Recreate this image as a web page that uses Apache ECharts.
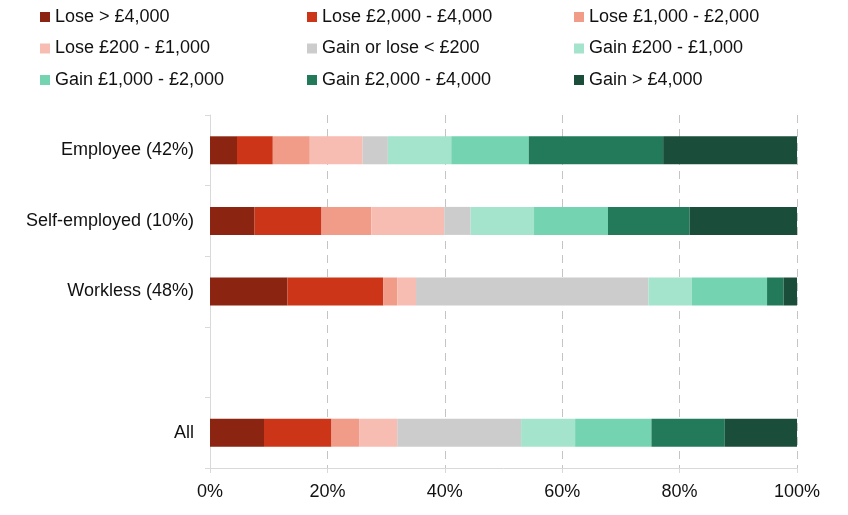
<!DOCTYPE html>
<html>
<head>
<meta charset="utf-8">
<script src="https://cdn.jsdelivr.net/npm/echarts@6.0.0/dist/echarts.min.js"></script>
<style>
  html, body { margin: 0; padding: 0; background: #fff; }
  #chart { width: 848px; height: 515px; }
</style>
</head>
<body>
<div id="chart"></div>
<script>
// categories, top to bottom (blank row sits between Workless and All)
var categories = ['Employee (42%)', 'Self-employed (10%)', 'Workless (48%)', '', 'All']

// share of each group (%) in each band of gain / loss
var loseOver4k = [4.6, 7.6, 13.2, null, 9.2]
var lose2kTo4k = [6.1, 11.4, 16.3, null, 11.5]
var lose1kTo2k = [6.3, 8.5, 2.4, null, 4.7]
var lose200To1k = [9.0, 12.4, 3.2, null, 6.5]
var within200 = [4.3, 4.5, 39.6, null, 21.1]
var gain200To1k = [10.8, 10.8, 7.4, null, 9.2]
var gain1kTo2k = [13.2, 12.6, 12.8, null, 13.0]
var gain2kTo4k = [22.9, 13.9, 2.8, null, 12.5]
var gainOver4k = [22.8, 18.3, 2.3, null, 12.3]

var xTicks = [0, 20, 40, 60, 80, 100]

var bands = [
  { name: 'Lose > £4,000', data: loseOver4k, color: '#8B2511' },
  { name: 'Lose £2,000 - £4,000', data: lose2kTo4k, color: '#CC3517' },
  { name: 'Lose £1,000 - £2,000', data: lose1kTo2k, color: '#F19B89' },
  { name: 'Lose £200 - £1,000', data: lose200To1k, color: '#F7BDB3' },
  { name: 'Gain or lose < £200', data: within200, color: '#CCCCCC' },
  { name: 'Gain £200 - £1,000', data: gain200To1k, color: '#A4E3CC' },
  { name: 'Gain £1,000 - £2,000', data: gain1kTo2k, color: '#74D4B1' },
  { name: 'Gain £2,000 - £4,000', data: gain2kTo4k, color: '#227A5B' },
  { name: 'Gain > £4,000', data: gainOver4k, color: '#1A4E3B' }
]

var font = 'Liberation Sans, Arial, sans-serif'

function makeLegend(left, names) {
  return {
    orient: 'vertical',
    left: left,
    top: 3,
    padding: [5, 5],
    icon: 'rect',
    itemWidth: 10,
    itemHeight: 10,
    itemGap: 13.5,
    selectedMode: false,
    data: names,
    textStyle: { fontSize: 18, fontFamily: font, color: '#111' }
  }
}

var names = bands.map(function(b) { return b.name })

var chart = echarts.init(document.getElementById('chart'))
chart.setOption({
  animation: false,
  legend: [
    makeLegend(35, [names[0], names[3], names[6]]),
    makeLegend(302, [names[1], names[4], names[7]]),
    makeLegend(569, [names[2], names[5], names[8]])
  ],
  grid: {
    left: 210,
    right: 51,
    top: 115,
    bottom: 47
  },
  xAxis: {
    type: 'value',
    min: xTicks[0],
    max: xTicks[xTicks.length - 1],
    interval: 20,
    axisLine: { show: true, lineStyle: { color: '#d9d9d9', width: 1 } },
    axisTick: { show: true, length: 5, lineStyle: { color: '#d9d9d9' } },
    axisLabel: {
      margin: 15,
      fontSize: 18,
      fontFamily: font,
      color: '#111',
      formatter: '{value}%'
    },
    splitLine: {
      show: true,
      lineStyle: { color: '#c4c4c4', type: [8, 6], width: 1 }
    }
  },
  yAxis: {
    type: 'category',
    inverse: true,
    data: categories,
    axisLine: { show: true, lineStyle: { color: '#d9d9d9', width: 1 } },
    axisTick: { show: true, length: 5, lineStyle: { color: '#d9d9d9' } },
    axisLabel: {
      margin: 16,
      fontSize: 18,
      fontFamily: font,
      color: '#111'
    }
  },
  series: bands.map(function(b) {
    return {
      name: b.name,
      type: 'bar',
      stack: 'total',
      barWidth: 28,
      data: b.data,
      itemStyle: { color: b.color }
    }
  })
})
</script>
</body>
</html>
